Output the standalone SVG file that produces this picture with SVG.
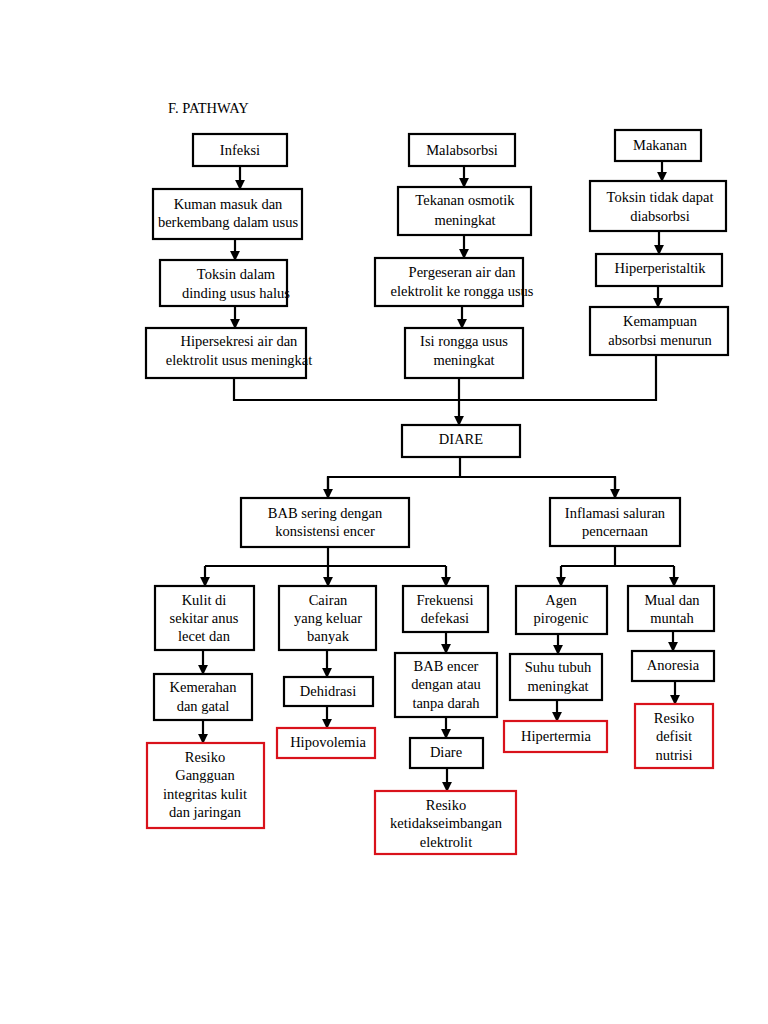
<svg xmlns="http://www.w3.org/2000/svg" width="768" height="1024" viewBox="0 0 768 1024">
<style>
.b rect{fill:#fff;stroke:#000;stroke-width:2.2}
.r rect{fill:#fff;stroke:#d9121b;stroke-width:2.2}
text{font-family:"Liberation Serif",serif;font-size:14.5px;fill:#000;text-anchor:middle}
.c{fill:none;stroke:#000;stroke-width:2.2}
</style>
<defs><marker id="a" viewBox="0 0 10 10" refX="9" refY="5" markerWidth="4.5" markerHeight="4.5" orient="auto"><path d="M0,0L10,5L0,10z" fill="#000"/></marker></defs>
<rect width="768" height="1024" fill="#fff"/>
<text x="168" y="113" style="text-anchor:start;font-size:14.5px">F.  PATHWAY</text>
<g id="connectors">
<path class="c" marker-end="url(#a)" d="M240,166V189"/>
<path class="c" marker-end="url(#a)" d="M235,239V260"/>
<path class="c" marker-end="url(#a)" d="M235,306V328"/>
<path class="c" marker-end="url(#a)" d="M464,166V187"/>
<path class="c" marker-end="url(#a)" d="M464,235V258"/>
<path class="c" marker-end="url(#a)" d="M462,306V328"/>
<path class="c" marker-end="url(#a)" d="M662,161V181"/>
<path class="c" marker-end="url(#a)" d="M659,231V254"/>
<path class="c" marker-end="url(#a)" d="M658,286V307"/>
<path class="c" d="M234,378V400H656V355"/>
<path class="c" marker-end="url(#a)" d="M459,378V425"/>
<path class="c" d="M460,457V477M328,498V477H615V498"/>
<path class="c" marker-end="url(#a)" d="M328,477V498"/>
<path class="c" marker-end="url(#a)" d="M615,477V498"/>
<path class="c" d="M328,547V566H446M205,566H328"/>
<path class="c" marker-end="url(#a)" d="M205,566V586"/>
<path class="c" marker-end="url(#a)" d="M328,566V586"/>
<path class="c" marker-end="url(#a)" d="M446,566V586"/>
<path class="c" d="M615,546V566H674M561,566H615"/>
<path class="c" marker-end="url(#a)" d="M561,566V586"/>
<path class="c" marker-end="url(#a)" d="M674,566V586"/>
<path class="c" marker-end="url(#a)" d="M203,650V674"/>
<path class="c" marker-end="url(#a)" d="M203,720V743"/>
<path class="c" marker-end="url(#a)" d="M327,650V677"/>
<path class="c" marker-end="url(#a)" d="M327,706V728"/>
<path class="c" marker-end="url(#a)" d="M446,632V653"/>
<path class="c" marker-end="url(#a)" d="M446,717V738"/>
<path class="c" marker-end="url(#a)" d="M447,768V791"/>
<path class="c" marker-end="url(#a)" d="M558,634V654"/>
<path class="c" marker-end="url(#a)" d="M557,700V721"/>
<path class="c" marker-end="url(#a)" d="M673,631V651"/>
<path class="c" marker-end="url(#a)" d="M675,681V704"/>
</g>
<g id="n1" class="b"><rect x="193" y="134" width="94" height="32"/><text x="240" y="155">Infeksi</text></g>
<g id="n2" class="b"><rect x="153" y="189" width="149" height="50"/><text x="228" y="209">Kuman masuk dan</text><text x="228" y="227">berkembang dalam usus</text></g>
<g id="n3" class="b"><rect x="160" y="260" width="127" height="46"/><text x="236" y="279">Toksin dalam</text><text x="236" y="298">dinding usus halus</text></g>
<g id="n4" class="b"><rect x="146" y="328" width="160" height="50"/><text x="239" y="346">Hipersekresi air dan</text><text x="239" y="365">elektrolit usus meningkat</text></g>
<g id="n5" class="b"><rect x="409" y="134" width="106" height="32"/><text x="462" y="155">Malabsorbsi</text></g>
<g id="n6" class="b"><rect x="398" y="187" width="133" height="48"/><text x="465" y="205">Tekanan osmotik</text><text x="465" y="225">meningkat</text></g>
<g id="n7" class="b"><rect x="375" y="258" width="148" height="48"/><text x="462" y="277">Pergeseran air dan</text><text x="462" y="296">elektrolit ke rongga usus</text></g>
<g id="n8" class="b"><rect x="405" y="328" width="118" height="50"/><text x="464" y="346">Isi rongga usus</text><text x="464" y="365">meningkat</text></g>
<g id="n9" class="b"><rect x="615" y="130" width="86" height="31"/><text x="660" y="150">Makanan</text></g>
<g id="n10" class="b"><rect x="590" y="181" width="136" height="50"/><text x="660" y="202">Toksin tidak dapat</text><text x="660" y="221">diabsorbsi</text></g>
<g id="n11" class="b"><rect x="596" y="254" width="126" height="32"/><text x="660" y="273">Hiperperistaltik</text></g>
<g id="n12" class="b"><rect x="590" y="307" width="138" height="48"/><text x="660" y="326">Kemampuan</text><text x="660" y="345">absorbsi menurun</text></g>
<g id="n13" class="b"><rect x="402" y="425" width="118" height="32"/><text x="461" y="444">DIARE</text></g>
<g id="n14" class="b"><rect x="241" y="498" width="168" height="49"/><text x="325" y="518">BAB sering dengan</text><text x="325" y="536">konsistensi encer</text></g>
<g id="n15" class="b"><rect x="550" y="498" width="130" height="48"/><text x="615" y="518">Inflamasi saluran</text><text x="615" y="536">pencernaan</text></g>
<g id="n16" class="b"><rect x="155" y="586" width="99" height="64"/><text x="204" y="605">Kulit di</text><text x="204" y="623">sekitar anus</text><text x="204" y="641">lecet dan</text></g>
<g id="n17" class="b"><rect x="279" y="586" width="97" height="64"/><text x="328" y="605">Cairan</text><text x="328" y="623">yang keluar</text><text x="328" y="641">banyak</text></g>
<g id="n18" class="b"><rect x="403" y="586" width="85" height="46"/><text x="445" y="605">Frekuensi</text><text x="445" y="623">defekasi</text></g>
<g id="n19" class="b"><rect x="516" y="586" width="91" height="48"/><text x="561" y="605">Agen</text><text x="561" y="623">pirogenic</text></g>
<g id="n20" class="b"><rect x="628" y="586" width="86" height="45"/><text x="672" y="605">Mual dan</text><text x="672" y="623">muntah</text></g>
<g id="n21" class="b"><rect x="154" y="674" width="98" height="46"/><text x="203" y="692">Kemerahan</text><text x="203" y="711">dan gatal</text></g>
<g id="n22" class="b"><rect x="284" y="677" width="89" height="29"/><text x="328" y="696">Dehidrasi</text></g>
<g id="n23" class="b"><rect x="395" y="653" width="102" height="64"/><text x="446" y="671">BAB encer</text><text x="446" y="689">dengan atau</text><text x="446" y="708">tanpa darah</text></g>
<g id="n24" class="b"><rect x="510" y="654" width="92" height="46"/><text x="558" y="672">Suhu tubuh</text><text x="558" y="691">meningkat</text></g>
<g id="n25" class="b"><rect x="632" y="651" width="82" height="30"/><text x="673" y="670">Anoresia</text></g>
<g id="n26" class="r"><rect x="147" y="743" width="117" height="85"/><text x="205" y="762">Resiko</text><text x="205" y="780">Gangguan</text><text x="205" y="799">integritas kulit</text><text x="205" y="817">dan jaringan</text></g>
<g id="n27" class="r"><rect x="277" y="728" width="98" height="30"/><text x="328" y="747">Hipovolemia</text></g>
<g id="n28" class="b"><rect x="410" y="738" width="73" height="30"/><text x="446" y="757">Diare</text></g>
<g id="n29" class="r"><rect x="504" y="721" width="103" height="31"/><text x="556" y="741">Hipertermia</text></g>
<g id="n30" class="r"><rect x="635" y="704" width="78" height="64"/><text x="674" y="723">Resiko</text><text x="674" y="741">defisit</text><text x="674" y="760">nutrisi</text></g>
<g id="n31" class="r"><rect x="375" y="791" width="141" height="63"/><text x="446" y="810">Resiko</text><text x="446" y="828">ketidakseimbangan</text><text x="446" y="847">elektrolit</text></g>
</svg>
